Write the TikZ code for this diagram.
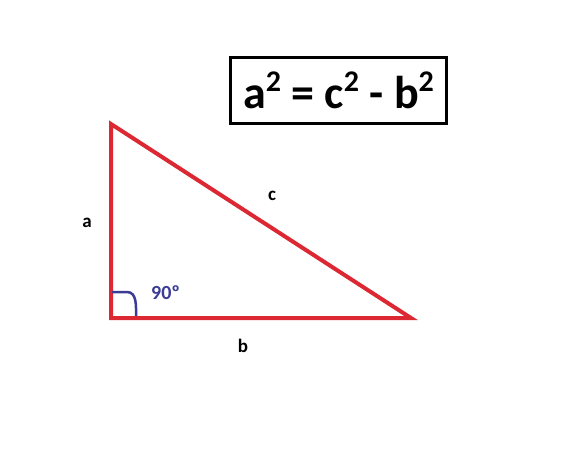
\documentclass[tikz,border=0pt]{standalone}
\usepackage{fontspec}
\setmainfont{Carlito}
\definecolor{tred}{RGB}{220,40,50}
\definecolor{tblue}{RGB}{60,60,150}
\newcommand{\sqr}{\raisebox{0.36em}{\fontsize{30}{30}\selectfont 2}}
\begin{document}
\begin{tikzpicture}[x=1pt,y=-1pt,
  side/.style={draw=tred,line width=4pt,line join=miter},
  lbl/.style={font=\bfseries\fontsize{19}{22}\selectfont,inner sep=0pt},
  angle/.style={draw=tblue,line width=2.5pt}]
\useasboundingbox[fill=white] (0,0) rectangle (573,474);
\coordinate (A) at (111,124);
\coordinate (B) at (111,318);
\coordinate (C) at (411,318);
\draw[side] (A) -- (B) -- (C) -- cycle;
\coordinate (r1) at (112,292);
\coordinate (r2) at (136,316);
\draw[angle] (r1) -- (127,292) to[out=0,in=90] (r2);
\node[lbl] (la) at (87,223) {a};
\node[lbl] (lc) at (272,196) {c};
\node[lbl] (lb) at (243,346) {b};
\node[lbl,text=tblue,anchor=west,font=\bfseries\fontsize{20}{24}\selectfont] (ang) at (151,293) {90º};
\node[draw=black,line width=3pt,minimum width=216pt,minimum height=66pt,inner sep=0pt,
  font=\bfseries\fontsize{46}{50}\selectfont] (f) at (338.5,90.5) {a\sqr{} = c\sqr{} - b\sqr};
\end{tikzpicture}
\end{document}
